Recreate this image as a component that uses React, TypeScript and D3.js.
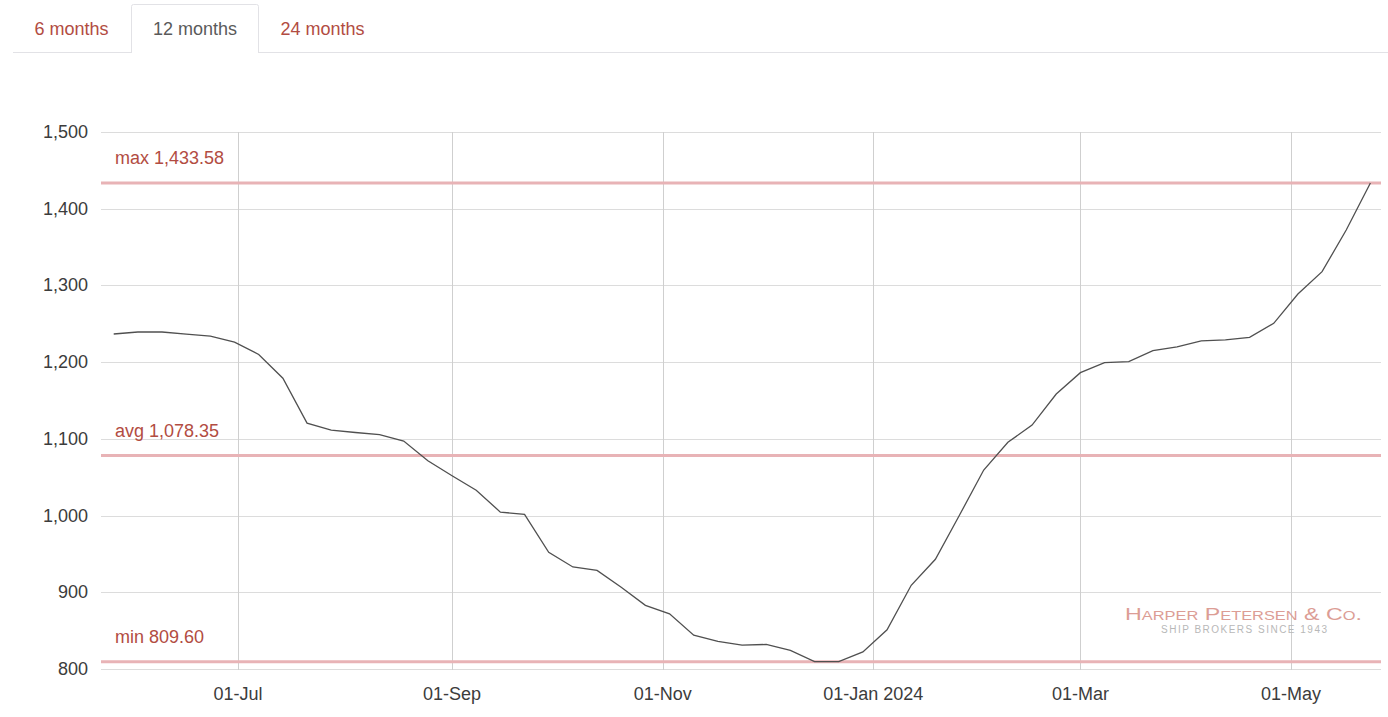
import React from "react";
import * as d3 from "d3";

// weekly index values, first point 26 May 2023
const startDate = new Date(2023, 4, 26);
const weeklyValues = [
  1236.7, 1239.3, 1239.3, 1236.5, 1234.0, 1226.0, 1210.0, 1179.0, 1120.5, 1111.5,
  1108.3, 1105.4, 1097.2, 1071.5, 1052.0, 1033.0, 1004.5, 1001.6, 952.0, 933.0,
  928.6, 906.5, 883.0, 872.0, 844.0, 836.0, 831.0, 832.0, 824.3, 809.6,
  809.6, 822.2, 851.2, 909.1, 943.0, 1000.7, 1059.4, 1095.5, 1118.0, 1158.5,
  1186.3, 1199.3, 1200.6, 1214.9, 1220.0, 1227.8, 1228.9, 1232.4, 1250.6, 1288.8,
  1317.9, 1372.3, 1433.58,
];

const statLabels = ["max", "avg", "min"];
const statValues = [1433.58, 1078.35, 809.6];

const yTicks = [800, 900, 1000, 1100, 1200, 1300, 1400, 1500];
const tabLabels = ["6 months", "12 months", "24 months"];
const activeTab = 1;

const FONT = "'Liberation Sans', Arial, sans-serif";
const RED = "#b24c42";

export default function App() {
  const width = 1388;
  const height = 717;

  const data = weeklyValues.map((v, i) => ({
    date: d3.timeDay.offset(startDate, i * 7),
    value: v,
  }));

  const x = d3
    .scaleTime()
    .domain([new Date(2023, 4, 22, 7, 40), new Date(2024, 4, 27, 1, 40)])
    .range([101, 1381]);

  const y = d3.scaleLinear().domain([800, 1500]).range([669, 132]);

  const xTicks = x.ticks(d3.timeMonth.every(2)!);
  const fmtTick = (d: Date) =>
    d.getMonth() === 0 ? d3.timeFormat("%d-%b %Y")(d) : d3.timeFormat("%d-%b")(d);

  const line = d3
    .line<{ date: Date; value: number }>()
    .x((d) => x(d.date))
    .y((d) => y(d.value));

  const fmtStat = d3.format(",.2f");

  // tab geometry
  const tabCenters = [71.5, 195, 322.5];

  return (
    <div style={{ position: "absolute", left: 0, top: 0 }}>
      <svg width={width} height={height} style={{ display: "block", fontFamily: FONT }}>
        <rect width={width} height={height} fill="#fff" />

        {/* tabs */}
        <line x1={13} x2={width} y1={52.5} y2={52.5} stroke="#e2e2e6" />
        <path
          d="M131.5,53 V6.5 Q131.5,4.5 133.5,4.5 H256.5 Q258.5,4.5 258.5,6.5 V53"
          fill="#fff"
          stroke="#e2e2e6"
        />
        {tabLabels.map((t, i) => (
          <text
            key={t}
            x={tabCenters[i]}
            y={29}
            textAnchor="middle"
            dominantBaseline="central"
            fontSize={18}
            fill={i === activeTab ? "#5a5a5a" : RED}
          >
            {t}
          </text>
        ))}

        {/* horizontal grid */}
        {yTicks.map((t) => (
          <line key={t} x1={101} x2={1381} y1={Math.round(y(t)) + 0.5} y2={Math.round(y(t)) + 0.5} stroke="#dcdcdc" />
        ))}
        {/* vertical grid */}
        {xTicks.map((t) => (
          <line
            key={t.getTime()}
            x1={Math.round(x(t)) + 0.5}
            x2={Math.round(x(t)) + 0.5}
            y1={132}
            y2={670}
            stroke="#cfcfcf"
          />
        ))}

        {/* y tick labels */}
        {yTicks.map((t) => (
          <text
            key={t}
            x={88}
            y={y(t)}
            textAnchor="end"
            dominantBaseline="central"
            fontSize={18}
            fill="#3c3c3c"
          >
            {d3.format(",")(t)}
          </text>
        ))}

        {/* x tick labels */}
        {xTicks.map((t) => (
          <text key={t.getTime()} x={x(t)} y={700} textAnchor="middle" fontSize={18} fill="#3c3c3c">
            {fmtTick(t)}
          </text>
        ))}

        {/* watermark */}
        <text
          x={1125}
          y={619.5}
          fontSize={17}
          fill="#dc9d95"
          textLength={237}
          lengthAdjust="spacingAndGlyphs"
          style={{ fontVariant: "small-caps" }}
        >
          Harper Petersen &amp; Co.
        </text>
        <text
          x={1161}
          y={633}
          fontSize={10}
          fill="#b8b8b8"
          textLength={166}
          lengthAdjust="spacing"
        >
          SHIP BROKERS SINCE 1943
        </text>

        {/* stat lines */}
        {statValues.map((v, i) => (
          <g key={statLabels[i]}>
            <line x1={101} x2={1381} y1={y(v)} y2={y(v)} stroke="#e8b3b6" strokeWidth={3} />
            <text x={115} y={y(v) - 18.5} fontSize={18} fill={RED}>
              {statLabels[i]} {fmtStat(v)}
            </text>
          </g>
        ))}

        {/* series */}
        <path d={line(data) ?? ""} fill="none" stroke="#505050" strokeWidth={1.3} />
      </svg>
    </div>
  );
}
